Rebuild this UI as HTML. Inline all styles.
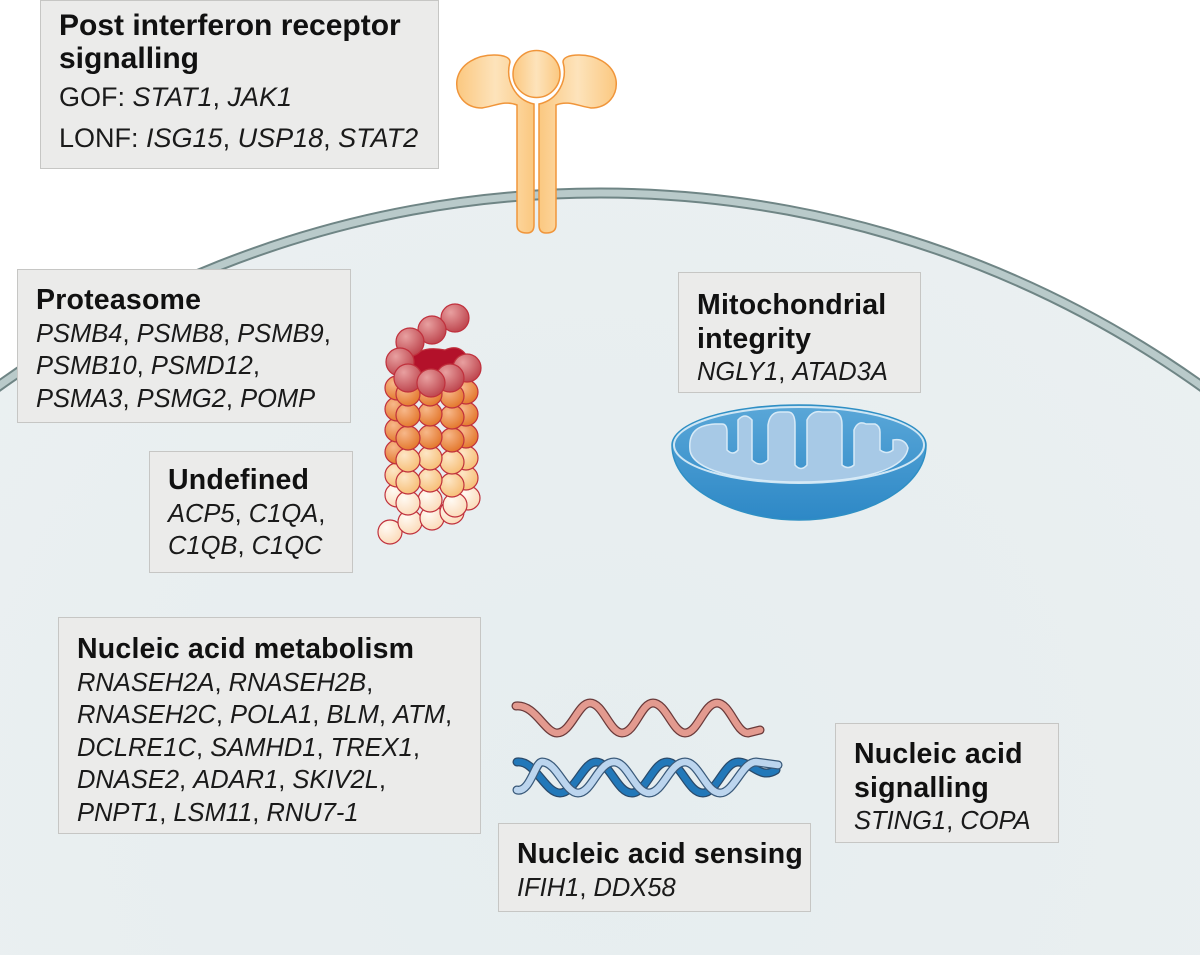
<!DOCTYPE html>
<html><head><meta charset="utf-8"><style>
html,body{margin:0;padding:0;background:#fff;overflow:hidden;width:1200px;height:955px}
#c{position:relative;width:1200px;height:955px;overflow:hidden;font-family:"Liberation Sans",sans-serif;color:#1a1a1a}
.b{position:absolute;background:#ebebea;border:1.5px solid #c6c6c4;box-sizing:border-box;padding:0 0 0 18px;font-size:25.5px;line-height:32.5px;white-space:nowrap;overflow:hidden}
.b b{font-weight:bold;color:#111;font-size:28.5px;letter-spacing:0.2px}
.b i{font-style:italic}
</style></head><body><div id="c">
<svg width="1200" height="955" style="position:absolute;left:0;top:0">
<defs>
<radialGradient id="cell" cx="0.5" cy="0.3" r="0.7"><stop offset="0" stop-color="#e6edef"/><stop offset="1" stop-color="#eef2f3"/></radialGradient>
<radialGradient id="rb" cx="0.35" cy="0.3" r="0.7"><stop offset="0" stop-color="#e8a0a0"/><stop offset="1" stop-color="#c04a52"/></radialGradient>
<radialGradient id="ob" cx="0.35" cy="0.3" r="0.7"><stop offset="0" stop-color="#f7b88a"/><stop offset="1" stop-color="#e47a30"/></radialGradient>
<radialGradient id="lb" cx="0.35" cy="0.3" r="0.7"><stop offset="0" stop-color="#fde6c6"/><stop offset="1" stop-color="#f7c07a"/></radialGradient>
<radialGradient id="wb" cx="0.35" cy="0.3" r="0.7"><stop offset="0" stop-color="#fffaf3"/><stop offset="1" stop-color="#fbdcbc"/></radialGradient>
<linearGradient id="rec" x1="0" y1="0" x2="1" y2="0"><stop offset="0" stop-color="#fbc880"/><stop offset="0.5" stop-color="#fde3bb"/><stop offset="1" stop-color="#fbc880"/></linearGradient>
<linearGradient id="mito" x1="0" y1="0" x2="0" y2="1"><stop offset="0" stop-color="#5aa7d8"/><stop offset="1" stop-color="#2d88c6"/></linearGradient>
</defs>
<circle cx="600" cy="1226" r="1033" fill="url(#cell)" stroke="#6f8585" stroke-width="11"/>
<circle cx="600" cy="1226" r="1033" fill="none" stroke="#b9caca" stroke-width="7"/>
<g stroke="#f0953a" stroke-width="1.5" fill="url(#rec)">
<path d="M517,105 C505,100 495,106 482,108 C465,108 455,95 457,80 C460,63 478,55 494,55 C505,55 510,58 510,62 C505,80 515,100 534,104 L534,225 Q534,233 527,233 Q517,233 517,225 Z"/>
<path d="M556,105 C568,100 578,106 591,108 C608,108 618,95 616,80 C613,63 595,55 579,55 C568,55 563,58 563,62 C568,80 558,100 539,104 L539,225 Q539,233 546,233 Q556,233 556,225 Z"/>
<circle cx="536.5" cy="74" r="23.5"/>
</g>
<g stroke="#c0303c" stroke-width="1.2">
<circle cx="390" cy="532" r="12" fill="url(#wb)"/>
<circle cx="410" cy="522" r="12" fill="url(#wb)"/>
<circle cx="432" cy="518" r="12" fill="url(#wb)"/>
<circle cx="452" cy="512" r="12" fill="url(#wb)"/>
<circle cx="468" cy="498" r="12" fill="url(#wb)"/>
<circle cx="397" cy="495" r="12" fill="url(#wb)"/>
<circle cx="466" cy="478" r="12" fill="url(#lb)"/>
<circle cx="397" cy="475" r="12" fill="url(#lb)"/>
<circle cx="466" cy="458" r="12" fill="url(#lb)"/>
<circle cx="397" cy="452" r="12" fill="url(#ob)"/>
<circle cx="466" cy="436" r="12" fill="url(#ob)"/>
<circle cx="397" cy="430" r="12" fill="url(#ob)"/>
<circle cx="466" cy="414" r="12" fill="url(#ob)"/>
<circle cx="397" cy="409" r="12" fill="url(#ob)"/>
<circle cx="466" cy="392" r="12" fill="url(#ob)"/>
<circle cx="397" cy="388" r="12" fill="url(#ob)"/>
<path d="M410,360 Q420,345 445,350 Q460,343 468,358 L455,385 L415,385Z" fill="#b3112a"/>
<circle cx="455" cy="505" r="12" fill="url(#wb)"/><circle cx="430" cy="500" r="12" fill="url(#wb)"/><circle cx="408" cy="503" r="12" fill="url(#wb)"/>
<circle cx="452" cy="485" r="12" fill="url(#lb)"/><circle cx="430" cy="480" r="12" fill="url(#lb)"/><circle cx="408" cy="482" r="12" fill="url(#lb)"/>
<circle cx="452" cy="462" r="12" fill="url(#lb)"/><circle cx="430" cy="458" r="12" fill="url(#lb)"/><circle cx="408" cy="460" r="12" fill="url(#lb)"/>
<circle cx="452" cy="440" r="12" fill="url(#ob)"/><circle cx="430" cy="437" r="12" fill="url(#ob)"/><circle cx="408" cy="438" r="12" fill="url(#ob)"/>
<circle cx="452" cy="417" r="12" fill="url(#ob)"/><circle cx="430" cy="414" r="12" fill="url(#ob)"/><circle cx="408" cy="415" r="12" fill="url(#ob)"/>
<circle cx="452" cy="396" r="12" fill="url(#ob)"/><circle cx="430" cy="394" r="12" fill="url(#ob)"/><circle cx="408" cy="394" r="12" fill="url(#ob)"/>
<circle cx="455" cy="318" r="14" fill="url(#rb)"/>
<circle cx="432" cy="330" r="14" fill="url(#rb)"/>
<circle cx="410" cy="342" r="14" fill="url(#rb)"/>
<circle cx="400" cy="362" r="14" fill="url(#rb)"/>
<circle cx="467" cy="368" r="14" fill="url(#rb)"/>
<circle cx="408" cy="378" r="14" fill="url(#rb)"/>
<circle cx="450" cy="378" r="14" fill="url(#rb)"/>
<circle cx="431" cy="383" r="14" fill="url(#rb)"/>
</g>
<path d="M672,445 A127,40 0 0 1 926,445 C926,490 860,520 799,520 C738,520 672,490 672,445Z" fill="url(#mito)" stroke="#2f8fc4" stroke-width="1.5"/>
<ellipse cx="799" cy="445" rx="125" ry="38" fill="none" stroke="#cfe6f4" stroke-width="2"/>
<path d="M690,450 C688,430 700,425 715,424 L722,424 Q727,424 727,432 L727,450 Q733,456 738,450 L738,420 Q745,412 752,420 L752,460 Q760,468 768,460 L768,425 Q770,412 780,412 L788,412 Q795,412 795,425 L795,465 Q801,472 807,465 L807,420 Q812,410 822,412 L835,412 Q842,414 842,425 L842,465 Q848,470 854,465 L854,430 Q858,420 866,424 L875,424 Q880,426 880,432 L880,450 Q887,455 893,450 L893,440 Q905,438 908,448 C905,470 860,482 800,482 C740,482 692,470 690,450Z" fill="#a7c9e6" stroke="#d7eaf7" stroke-width="1.5"/>
<g fill="none" stroke-linecap="round">
<path d="M516,706 C535,704 545,733 557,733 C571,733 578,703 590,703 C603,703 610,733 622,733 C635,733 641,703 653,703 C666,703 673,733 685,733 C698,733 704,703 717,703 C730,703 736,733 748,733 L760,730" stroke="#6a3a3a" stroke-width="9"/>
<path d="M516,706 C535,704 545,733 557,733 C571,733 578,703 590,703 C603,703 610,733 622,733 C635,733 641,703 653,703 C666,703 673,733 685,733 C698,733 704,703 717,703 C730,703 736,733 748,733 L760,730" stroke="#e39a8f" stroke-width="6.5"/>
<path d="M517,762 C535,760 545,793 560,793 C575,793 583,762 596,762 C610,762 617,793 632,793 C646,793 653,762 667,762 C681,762 688,793 703,793 C717,793 724,762 738,762 C752,762 760,780 776,770" stroke="#2a4a6a" stroke-width="9"/>
<path d="M517,762 C535,760 545,793 560,793 C575,793 583,762 596,762 C610,762 617,793 632,793 C646,793 653,762 667,762 C681,762 688,793 703,793 C717,793 724,762 738,762 C752,762 760,780 776,770" stroke="#2278b9" stroke-width="6.5"/>
<path d="M517,790 C530,793 535,762 542,762 C557,762 565,793 578,793 C592,793 598,762 614,762 C628,762 635,793 649,793 C663,793 670,762 685,762 C699,762 706,793 720,793 C734,793 742,762 756,762 L778,765" stroke="#3a5a7a" stroke-width="9"/>
<path d="M517,790 C530,793 535,762 542,762 C557,762 565,793 578,793 C592,793 598,762 614,762 C628,762 635,793 649,793 C663,793 670,762 685,762 C699,762 706,793 720,793 C734,793 742,762 756,762 L778,765" stroke="#bcd5ee" stroke-width="6.5"/>
</g>
</svg>
<div class="b" style="left:40px;top:0;width:399px;height:169px;padding-top:9px;font-size:27px"><b style="font-size:30px;letter-spacing:0">Post interferon receptor<br>signalling</b><div style="margin-top:6px">GOF: <i>STAT1</i>, <i>JAK1</i></div><div style="margin-top:8px">LONF: <i>ISG15</i>, <i>USP18</i>, <i>STAT2</i></div></div>
<div class="b" style="left:17px;top:269px;width:334px;height:154px;padding-top:14px"><b>Proteasome</b><br><i>PSMB4</i>, <i>PSMB8</i>, <i>PSMB9</i>,<br><i>PSMB10</i>, <i>PSMD12</i>,<br><i>PSMA3</i>, <i>PSMG2</i>, <i>POMP</i></div>
<div class="b" style="left:149px;top:451px;width:204px;height:122px;padding-top:12px"><b>Undefined</b><br><i>ACP5</i>, <i>C1QA</i>,<br><i>C1QB</i>, <i>C1QC</i></div>
<div class="b" style="left:678px;top:272px;width:243px;height:121px;padding-top:16px"><b>Mitochondrial<br>integrity</b><br><i>NGLY1</i>, <i>ATAD3A</i></div>
<div class="b" style="left:58px;top:617px;width:423px;height:217px;padding-top:15px"><b>Nucleic acid metabolism</b><br><i>RNASEH2A</i>, <i>RNASEH2B</i>,<br><i>RNASEH2C</i>, <i>POLA1</i>, <i>BLM</i>, <i>ATM</i>,<br><i>DCLRE1C</i>, <i>SAMHD1</i>, <i>TREX1</i>,<br><i>DNASE2</i>, <i>ADAR1</i>, <i>SKIV2L</i>,<br><i>PNPT1</i>, <i>LSM11</i>, <i>RNU7-1</i></div>
<div class="b" style="left:498px;top:823px;width:313px;height:89px;padding-top:14px"><b>Nucleic acid sensing</b><br><i>IFIH1</i>, <i>DDX58</i></div>
<div class="b" style="left:835px;top:723px;width:224px;height:120px;padding-top:14px"><b>Nucleic acid<br>signalling</b><br><i>STING1</i>, <i>COPA</i></div>
</div></body></html>
